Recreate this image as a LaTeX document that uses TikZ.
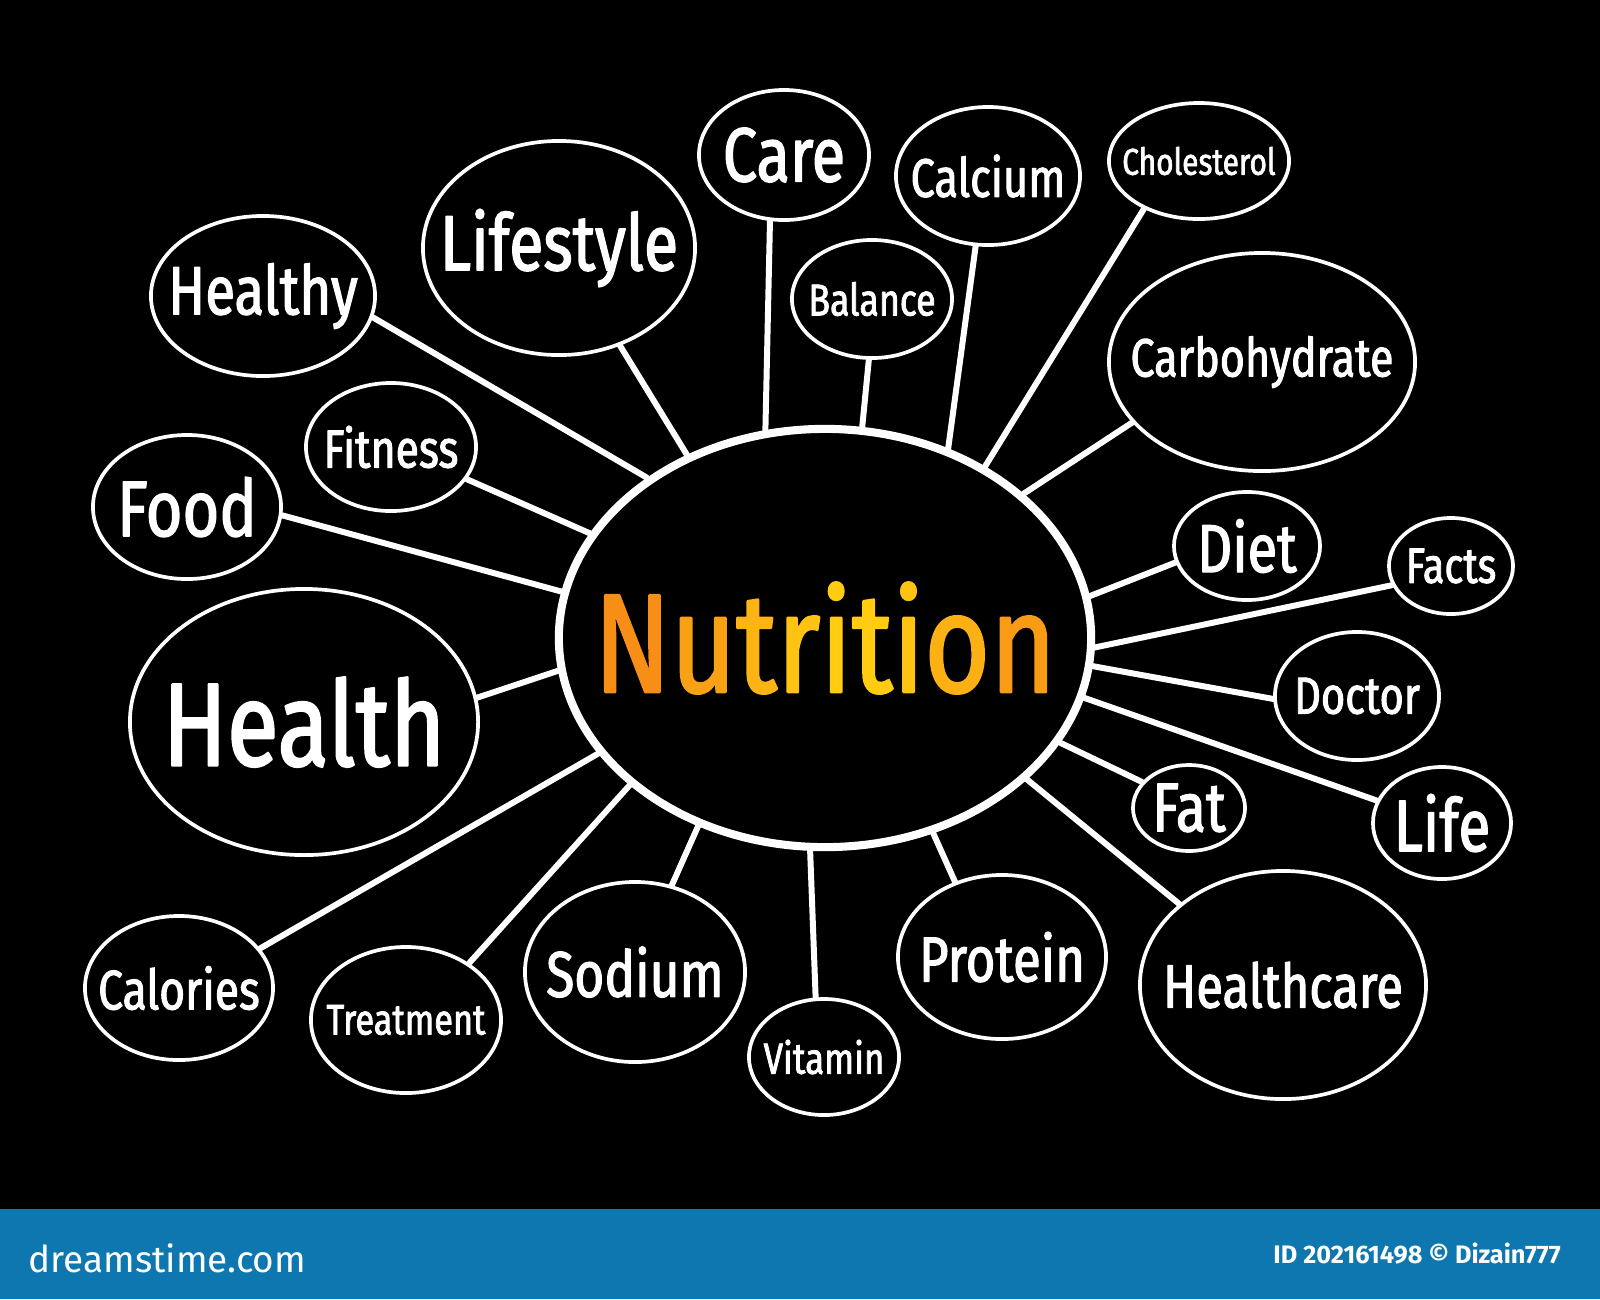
\documentclass[tikz,border=0pt]{standalone}
\usepackage{fontspec}
\setmainfont{Fira Sans}
\newfontfamily\hand{Fira Sans}[FakeStretch=0.8,FakeBold=1.8]
\usetikzlibrary{shapes.geometric}
\definecolor{nutA}{RGB}{247,143,22}
\definecolor{nutB}{RGB}{255,204,18}
\definecolor{bannerblue}{RGB}{15,119,176}
\newcommand{\fsz}[1]{\fontsize{#1}{#1}\selectfont}
\newcommand{\word}[2]{\makebox[0pt]{\fsz{#1}#2}}
\newcommand{\nutword}{\textcolor{nutA}{N}\textcolor{nutB!30!nutA}{u}\textcolor{nutB!60!nutA}{t}\textcolor{nutB!85!nutA}{r}\textcolor{nutB}{i}\textcolor{nutB}{t}\textcolor{nutB!85!nutA}{i}\textcolor{nutB!55!nutA}{o}\textcolor{nutB!20!nutA}{n}}

\begin{document}
\begin{tikzpicture}[x=0.01cm,y=-0.01cm,line join=round,line cap=round,font=\hand,text=white]
\tikzset{
  bub/.style={ellipse,draw=white,line width=1.05pt,inner sep=0pt},
  link/.style={white,line width=1.7pt},
}
\fill[black] (0,0) rectangle (1600,1299);
\useasboundingbox (0,0) rectangle (1600,1299);

% centre
\node[bub,line width=2.3pt,minimum width=5.32cm,minimum height=4.18cm] (nutr) at (825,638) {\word{40}{\nutword}};

% upper left
\node[bub,minimum width=2.24cm,minimum height=1.60cm] (healthy) at (263,296) {\word{19.4}{Healthy}};
\node[bub,minimum width=2.72cm,minimum height=2.14cm] (lifestyle) at (559,248) {\word{22.3}{Lifestyle}};
\node[bub,minimum width=1.70cm,minimum height=1.28cm] (fitness) at (391,447) {\word{15.2}{Fitness}};
\node[bub,minimum width=1.88cm,minimum height=1.44cm] (food) at (187,507) {\word{22.4}{Food}};
\node[bub,minimum width=3.48cm,minimum height=2.66cm] (health) at (304,722) {\word{33.6}{Health}};

% top
\node[bub,minimum width=1.70cm,minimum height=1.30cm] (care) at (784,155) {\word{21.8}{Care}};
\node[bub,minimum width=1.60cm,minimum height=1.18cm] (balance) at (872,299) {\word{12.7}{Balance}};
\node[bub,minimum width=1.84cm,minimum height=1.38cm] (calcium) at (988,176) {\word{15.4}{Calcium}};
\node[bub,minimum width=1.80cm,minimum height=1.16cm] (cholesterol) at (1199,161) {\word{10.6}{Cholesterol}};
\node[bub,minimum width=3.06cm,minimum height=2.18cm] (carbo) at (1262,362) {\word{15.3}{Carbohydrate}};

% right
\node[bub,minimum width=1.46cm,minimum height=1.08cm] (diet) at (1247,546) {\word{19.3}{Diet}};
\node[bub,minimum width=1.24cm,minimum height=0.96cm] (facts) at (1451,566) {\word{14.1}{Facts}};
\node[bub,minimum width=1.64cm,minimum height=1.28cm] (doctor) at (1357,696) {\word{14.8}{Doctor}};
\node[bub,minimum width=1.12cm,minimum height=0.86cm] (fat) at (1189,808) {\word{19.6}{Fat}};
\node[bub,minimum width=1.38cm,minimum height=1.12cm] (life) at (1442,823) {\word{20.8}{Life}};

% bottom
\node[bub,minimum width=2.86cm,minimum height=2.28cm] (healthcare) at (1283,985) {\word{17.4}{Healthcare}};
\node[bub,minimum width=2.08cm,minimum height=1.64cm] (protein) at (1002,957) {\word{18.1}{Protein}};
\node[bub,minimum width=1.50cm,minimum height=1.16cm] (vitamin) at (824,1057) {\word{12.4}{Vitamin}};
\node[bub,minimum width=2.20cm,minimum height=1.80cm] (sodium) at (635,972) {\word{18.3}{Sodium}};
\node[bub,minimum width=1.90cm,minimum height=1.46cm] (treatment) at (406,1020) {\word{12.2}{Treatment}};
\node[bub,minimum width=1.88cm,minimum height=1.44cm] (calories) at (179,988) {\word{15.8}{Calories}};

% spokes: node / angle on centre / angle on node
\foreach \n/\a/\b in {healthy/138/349,lifestyle/127/302,care/106/258,balance/80/267,
  calcium/57/260,cholesterol/47/221,carbo/36/205,fitness/156/337,food/170/355,
  health/187/8,diet/9/193,facts/358/198,doctor/354/182,life/347/161,fat/336/151,
  healthcare/325/142,protein/299/122,vitamin/266/98,sodium/236/67,
  treatment/217/42,calories/207/26}
  \draw[link] (nutr.\a) -- (\n.\b);

% banner
\fill[bannerblue] (0,1209) rectangle (1600,1299);
\node[anchor=west,font=\rmfamily\fsz{10.5}] (brand) at (16,1258) {dreamstime.com};
\node[anchor=east,font=\rmfamily\bfseries\fsz{7.2}] (imgid) at (1573,1254) {ID 202161498 © Dizain777};
\end{tikzpicture}
\end{document}
